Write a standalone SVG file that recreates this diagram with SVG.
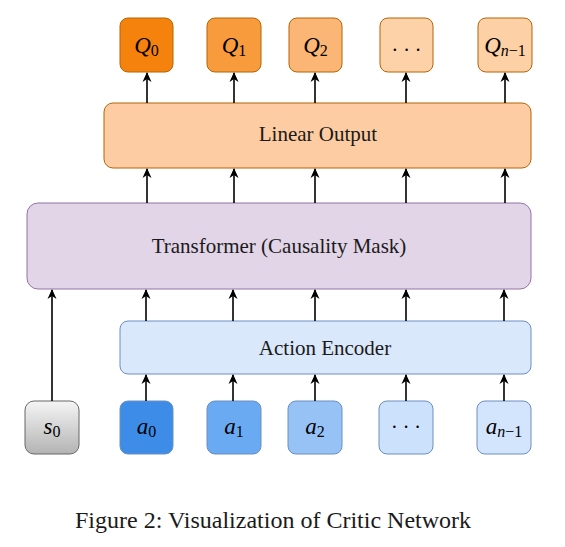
<svg xmlns="http://www.w3.org/2000/svg" width="565" height="547" viewBox="0 0 565 547">
<defs>
<marker id="ah" viewBox="0 0 10 10" refX="9" refY="5" markerWidth="10" markerHeight="10" markerUnits="userSpaceOnUse" orient="auto">
<path d="M0,0.5 L10,5 L0,9.5 L3,5 Z" fill="#000"/>
</marker>
<linearGradient id="gs" x1="0" y1="0" x2="0" y2="1">
<stop offset="0" stop-color="#f5f5f5"/>
<stop offset="1" stop-color="#b3b3b3"/>
</linearGradient>
</defs>
<style>
.lbl{font-family:"Liberation Serif","Times New Roman",serif;fill:#1a1a1a;text-anchor:middle}
.m{font-family:"Liberation Serif","Times New Roman",serif;font-style:italic;font-size:23px;fill:#000;text-anchor:middle}
.sub{font-style:normal;font-size:16px}
.subi{font-style:italic;font-size:16px}
.dots{font-style:normal;font-size:20px}
.q{stroke:#b46504;stroke-width:1}
.a{stroke:#6c8ebf;stroke-width:1}
.c line{stroke:#000;stroke-width:1.6;marker-end:url(#ah)}
</style>
<rect width="565" height="547" fill="#fff"/>

<g id="linear-output">
<rect x="104" y="103" width="427" height="65" rx="9" fill="#fdcca2" stroke="#b46504" stroke-width="1"/>
<text class="lbl" x="318" y="141" font-size="21">Linear Output</text>
</g>
<g id="transformer">
<rect x="27" y="203" width="504" height="86" rx="11" fill="#e1d5e7" stroke="#9673a6" stroke-width="1"/>
<text class="lbl" x="279" y="253" font-size="21">Transformer (Causality Mask)</text>
</g>
<g id="action-encoder">
<rect x="120" y="321" width="411" height="53" rx="8" fill="#dae8fc" stroke="#6c8ebf" stroke-width="1"/>
<text class="lbl" x="325" y="355" font-size="21">Action Encoder</text>
</g>

<g id="q0"><rect class="q" x="120" y="18" width="53" height="54" rx="8" fill="#f5820d"/><text class="m" x="146.5" y="53">Q<tspan class="sub" dy="3">0</tspan></text></g>
<g id="q1"><rect class="q" x="207" y="18" width="54" height="54" rx="8" fill="#f89b3c"/><text class="m" x="234" y="53">Q<tspan class="sub" dy="3">1</tspan></text></g>
<g id="q2"><rect class="q" x="289" y="18" width="53" height="54" rx="8" fill="#fbb574"/><text class="m" x="315.5" y="53">Q<tspan class="sub" dy="3">2</tspan></text></g>
<g id="qdots"><rect class="q" x="380" y="18" width="53" height="54" rx="8" fill="#fdd2a8"/><text class="m dots" x="406.5" y="57">· · ·</text></g>
<g id="qn1"><rect class="q" x="478" y="18" width="54" height="54" rx="8" fill="#fdd0a5"/><text class="m" x="505" y="53">Q<tspan class="subi" dy="3">n</tspan><tspan class="sub">−1</tspan></text></g>

<g id="s0"><rect x="25" y="401" width="54" height="53" rx="9" fill="url(#gs)" stroke="#666" stroke-width="1"/><text class="m" x="52" y="434">s<tspan class="sub" dy="3">0</tspan></text></g>
<g id="a0"><rect class="a" x="120" y="401" width="53" height="53" rx="8" fill="#3c8ce8"/><text class="m" x="146.5" y="434">a<tspan class="sub" dy="3">0</tspan></text></g>
<g id="a1"><rect class="a" x="207" y="401" width="54" height="53" rx="8" fill="#6aaaf3"/><text class="m" x="234" y="434">a<tspan class="sub" dy="3">1</tspan></text></g>
<g id="a2"><rect class="a" x="288" y="401" width="54" height="53" rx="8" fill="#96c2f6"/><text class="m" x="315" y="434">a<tspan class="sub" dy="3">2</tspan></text></g>
<g id="adots"><rect class="a" x="379" y="401" width="54" height="53" rx="8" fill="#cce1fb"/><text class="m dots" x="406" y="434">· · ·</text></g>
<g id="an1"><rect class="a" x="477" y="401" width="54" height="53" rx="8" fill="#d3e5fc"/><text class="m" x="504" y="434">a<tspan class="subi" dy="3">n</tspan><tspan class="sub">−1</tspan></text></g>

<g id="connectors" class="c">
<line x1="147" y1="103" x2="147" y2="73"/>
<line x1="234" y1="103" x2="234" y2="73"/>
<line x1="315" y1="103" x2="315" y2="73"/>
<line x1="406" y1="103" x2="406" y2="73"/>
<line x1="505" y1="103" x2="505" y2="73"/>
<line x1="147" y1="203" x2="147" y2="169"/>
<line x1="234" y1="203" x2="234" y2="169"/>
<line x1="315" y1="203" x2="315" y2="169"/>
<line x1="406" y1="203" x2="406" y2="169"/>
<line x1="505" y1="203" x2="505" y2="169"/>
<line x1="52" y1="401" x2="52" y2="290"/>
<line x1="146" y1="321" x2="146" y2="290"/>
<line x1="233" y1="321" x2="233" y2="290"/>
<line x1="315" y1="321" x2="315" y2="290"/>
<line x1="406" y1="321" x2="406" y2="290"/>
<line x1="504" y1="321" x2="504" y2="290"/>
<line x1="146" y1="401" x2="146" y2="375"/>
<line x1="233" y1="401" x2="233" y2="375"/>
<line x1="315" y1="401" x2="315" y2="375"/>
<line x1="406" y1="401" x2="406" y2="375"/>
<line x1="504" y1="401" x2="504" y2="375"/>
</g>

<text class="lbl" x="75" y="528" font-size="24" style="text-anchor:start">Figure 2: Visualization of Critic Network</text>
</svg>
